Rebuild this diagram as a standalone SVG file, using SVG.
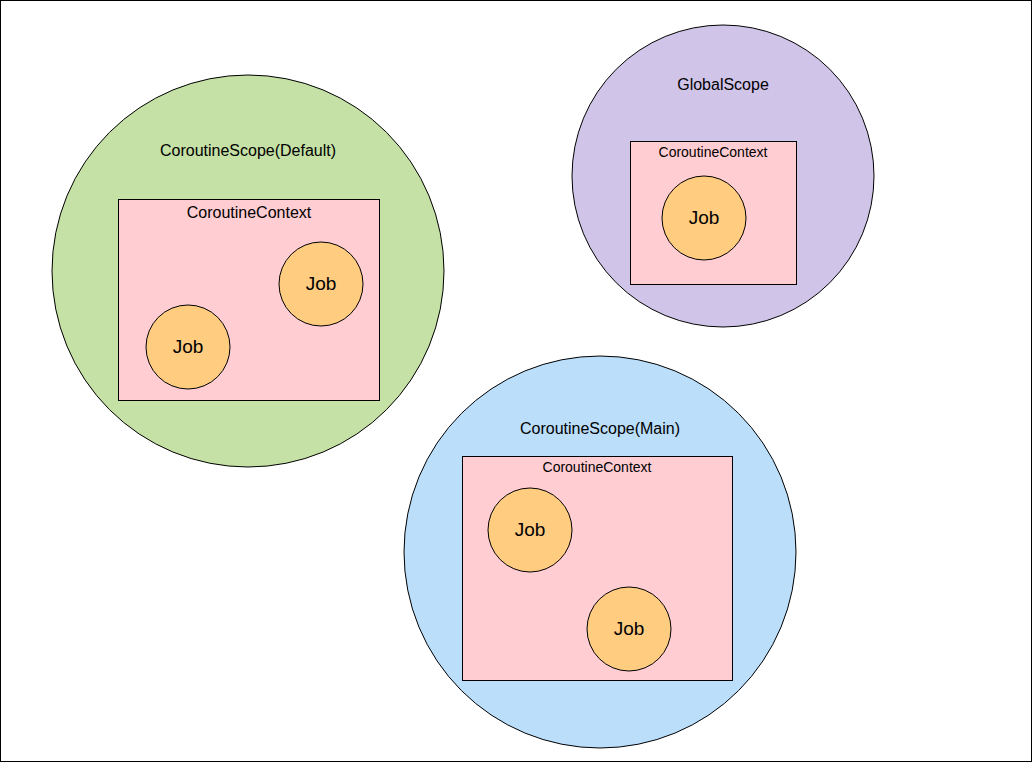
<svg xmlns="http://www.w3.org/2000/svg" width="1032" height="762" viewBox="0 0 1032 762">
<style>
.s{stroke:#000;stroke-width:1}
.t{font-family:"Liberation Sans",Arial,sans-serif;fill:#000;text-anchor:middle}
.ctx{fill:#ffcdd2}
.job{fill:#ffcc80}
</style>
<rect x="0.5" y="0.5" width="1031" height="761" fill="#fff" class="s"/>
<g id="scopeDefault">
<circle cx="248" cy="271" r="196" fill="#c5e1a5" class="s"/>
<text class="t" x="248" y="156" font-size="16">CoroutineScope(Default)</text>
</g>
<g id="ctxDefault">
<rect x="118.5" y="199.5" width="261" height="201" class="s ctx"/>
<text class="t" x="249" y="218" font-size="16">CoroutineContext</text>
</g>
<g id="jobD1"><circle cx="321" cy="284" r="42" class="s job"/><text class="t" x="321" y="290" font-size="19">Job</text></g>
<g id="jobD2"><circle cx="188" cy="347" r="42" class="s job"/><text class="t" x="188" y="353" font-size="19">Job</text></g>
<g id="scopeGlobal">
<circle cx="723" cy="176" r="151" fill="#d1c4e9" class="s"/>
<text class="t" x="723" y="90" font-size="16">GlobalScope</text>
</g>
<g id="ctxGlobal">
<rect x="630.5" y="141.5" width="166" height="143" class="s ctx"/>
<text class="t" x="713" y="157" font-size="14">CoroutineContext</text>
</g>
<g id="jobG"><circle cx="704" cy="218" r="42" class="s job"/><text class="t" x="704" y="224" font-size="19">Job</text></g>
<g id="scopeMain">
<circle cx="600" cy="552" r="196" fill="#bbdefb" class="s"/>
<text class="t" x="600" y="434" font-size="16">CoroutineScope(Main)</text>
</g>
<g id="ctxMain">
<rect x="462.5" y="456.5" width="270" height="224" class="s ctx"/>
<text class="t" x="597" y="472" font-size="14">CoroutineContext</text>
</g>
<g id="jobM1"><circle cx="530" cy="530" r="42" class="s job"/><text class="t" x="530" y="536" font-size="19">Job</text></g>
<g id="jobM2"><circle cx="629" cy="629" r="42" class="s job"/><text class="t" x="629" y="635" font-size="19">Job</text></g>
<g id="connectors"/>
</svg>
